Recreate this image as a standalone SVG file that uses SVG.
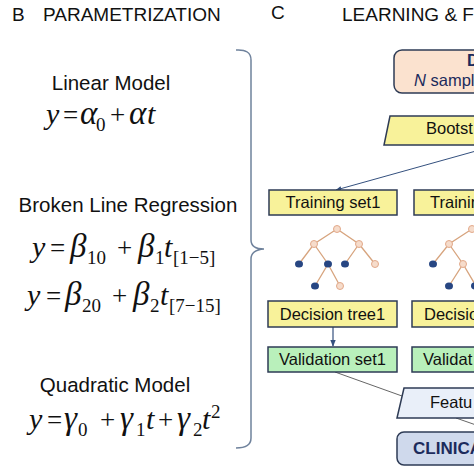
<svg xmlns="http://www.w3.org/2000/svg" width="474" height="474" viewBox="0 0 474 474">
<defs>
<style>
.lbl{font-family:"Liberation Sans",Arial,sans-serif;fill:#111}
.hd{font-size:19px}
.sub{font-size:20.5px;text-anchor:middle}
.eq{font-family:"Liberation Serif","Times New Roman",serif;font-size:30px;fill:#111}
.it{font-style:italic}
.gk{font-style:italic;font-size:33px}
.op{font-size:27px}
.sm{font-size:19px}
.box{stroke:#2e3b55;stroke-width:1.5}
.yel{fill:#f8f29a}
.grn{fill:#b9f0bb}
.bt{font-family:"Liberation Sans",Arial,sans-serif;font-size:16.5px;fill:#111}
.edge{stroke:#d7a47e;stroke-width:1.3;fill:none}
.pn{fill:#f6dccb;stroke:#e2a98a;stroke-width:1}
.bn{fill:#274682}
</style>
<marker id="ah" viewBox="0 0 10 10" refX="9" refY="5" markerWidth="6" markerHeight="6" orient="auto">
<path d="M0,1 L10,5 L0,9 Z" fill="#34507e"/>
</marker>
</defs>
<rect width="474" height="474" fill="#fff"/>

<g id="titles">
<text class="lbl hd" x="12" y="20.5">B</text>
<text class="lbl hd" x="43" y="20.5">PARAMETRIZATION</text>
<text class="lbl hd" x="271" y="19">C</text>
<text class="lbl hd" x="342" y="21">LEARNING &amp; F</text>
</g>

<g id="linear">
<text class="lbl sub" x="111" y="90">Linear Model</text>
<text class="eq"><tspan class="it" x="46" y="124">y</tspan><tspan class="op" x="63" y="124">=</tspan><tspan class="gk" x="80" y="124">α</tspan><tspan class="sm" x="96" y="131">0</tspan><tspan class="op" x="110" y="124">+</tspan><tspan class="gk" x="129" y="124">α</tspan><tspan class="it" x="147" y="124">t</tspan></text>
</g>

<g id="broken">
<text class="lbl sub" x="128" y="212">Broken Line Regression</text>
<text class="eq"><tspan class="it" x="32" y="257">y</tspan><tspan class="op" x="50" y="257">=</tspan><tspan class="gk" x="70" y="257">β</tspan><tspan class="sm" x="87" y="264">10</tspan><tspan class="op" x="117" y="257">+</tspan><tspan class="gk" x="138" y="257">β</tspan><tspan class="sm" x="155" y="264">1</tspan><tspan class="it" x="164" y="257">t</tspan><tspan class="sm" x="173" y="264">[1−5]</tspan></text>
<text class="eq"><tspan class="it" x="27" y="305">y</tspan><tspan class="op" x="46" y="305">=</tspan><tspan class="gk" x="65" y="305">β</tspan><tspan class="sm" x="82" y="312">20</tspan><tspan class="op" x="112" y="305">+</tspan><tspan class="gk" x="133" y="305">β</tspan><tspan class="sm" x="150" y="312">2</tspan><tspan class="it" x="160" y="305">t</tspan><tspan class="sm" x="169" y="312">[7−15]</tspan></text>
</g>

<g id="quadratic">
<text class="lbl sub" x="115" y="392">Quadratic Model</text>
<text class="eq"><tspan class="it" x="29" y="429">y</tspan><tspan class="op" x="47" y="429">=</tspan><tspan class="gk" x="64" y="429">γ</tspan><tspan class="sm" x="78" y="436">0</tspan><tspan class="op" x="100" y="429">+</tspan><tspan class="gk" x="120" y="429">γ</tspan><tspan class="sm" x="136" y="436">1</tspan><tspan class="it" x="146" y="429">t</tspan><tspan class="op" x="158" y="429">+</tspan><tspan class="gk" x="177" y="429">γ</tspan><tspan class="sm" x="193" y="436">2</tspan><tspan class="it" x="202" y="429">t</tspan><tspan class="sm" x="211" y="418">2</tspan></text>
</g>

<g id="brace">
<path d="M236,50 Q251,49 251,60 L251,240 Q251,249 264,249 Q251,250 251,259 L251,438 Q251,448 236,448" fill="none" stroke="#6f829c" stroke-width="1.5"/>
</g>

<g id="connectors">
<line x1="476" y1="151" x2="336" y2="190" stroke="#34507e" stroke-width="1" marker-end="url(#ah)"/>
<line x1="333" y1="327" x2="333" y2="346" stroke="#34507e" stroke-width="1.2" marker-end="url(#ah)"/>
<line x1="335" y1="372" x2="402" y2="396" stroke="#666" stroke-width="1"/>
<line x1="456" y1="418" x2="476" y2="425" stroke="#666" stroke-width="1"/>
</g>

<g id="data">
<rect class="box" x="394" y="50" width="130" height="43" rx="8" fill="#fbe2cf"/>
<text class="bt" x="467" y="66" font-weight="bold" style="fill:#1c2b5c">D</text>
<text class="bt" x="414" y="86" style="fill:#1c2b5c"><tspan font-style="italic">N</tspan> sampl</text>
</g>

<g id="bootstrap">
<polygon class="box yel" points="390,116 500,116 494,145 384,145"/>
<text class="bt" x="426" y="134">Bootst</text>
</g>

<g id="training1">
<rect class="box yel" x="269" y="190" width="128" height="25"/>
<text class="bt" x="333" y="208" text-anchor="middle">Training set1</text>
</g>
<g id="training2">
<rect class="box yel" x="414" y="190" width="128" height="25"/>
<text class="bt" x="430" y="208">Trainin</text>
</g>

<g id="tree1">
<path class="edge" d="M337,229 L314,244 L299,264 M314,244 L328,264 L315,286 M328,264 L340,286 M337,229 L359,244 L345,264 M359,244 L375,264"/>
<circle class="pn" cx="337" cy="229" r="3.5"/>
<circle class="pn" cx="314" cy="244" r="3.5"/>
<circle class="pn" cx="359" cy="244" r="3.5"/>
<ellipse class="bn" cx="299" cy="264" rx="4" ry="3.5"/>
<ellipse class="bn" cx="328" cy="264" rx="4" ry="3.5"/>
<ellipse class="bn" cx="345" cy="264" rx="4" ry="3.5"/>
<circle class="pn" cx="375" cy="264" r="3.5"/>
<ellipse class="bn" cx="315" cy="286" rx="4" ry="3.5"/>
<circle class="pn" cx="340" cy="286" r="3.5"/>
</g>
<g id="tree2">
<path class="edge" d="M472,229 L449,244 L433,264 M449,244 L463,264 L449,286 M463,264 L476,286 M472,229 L480,236"/>
<circle class="pn" cx="472" cy="229" r="3.5"/>
<circle class="pn" cx="449" cy="244" r="3.5"/>
<ellipse class="bn" cx="433" cy="264" rx="4" ry="3.5"/>
<circle class="pn" cx="463" cy="264" r="3.5"/>
<ellipse class="bn" cx="449" cy="286" rx="4" ry="3.5"/>
<ellipse class="bn" cx="475" cy="286" rx="4" ry="3.5"/>
</g>

<g id="decision1">
<rect class="box yel" x="268" y="301" width="129" height="26"/>
<text class="bt" x="332.5" y="320" text-anchor="middle">Decision tree1</text>
</g>
<g id="decision2">
<rect class="box yel" x="412" y="301" width="129" height="26"/>
<text class="bt" x="424" y="320">Decisio</text>
</g>

<g id="validation1">
<rect class="box grn" x="268" y="347" width="129" height="25"/>
<text class="bt" x="332.5" y="365" text-anchor="middle">Validation set1</text>
</g>
<g id="validation2">
<rect class="box grn" x="412" y="347" width="129" height="25"/>
<text class="bt" x="423" y="365">Validat</text>
</g>

<g id="feature">
<polygon class="box" points="404,388 500,388 494,418 397,418" fill="#e9eff9"/>
<text class="bt" x="430" y="408">Featu</text>
</g>

<g id="clinical">
<rect class="box" x="397" y="432" width="130" height="33" rx="7" fill="#cfd9ec"/>
<text class="bt" x="413" y="454" font-weight="bold" style="fill:#1c2b5c;font-size:17px">CLINICA</text>
</g>
</svg>
